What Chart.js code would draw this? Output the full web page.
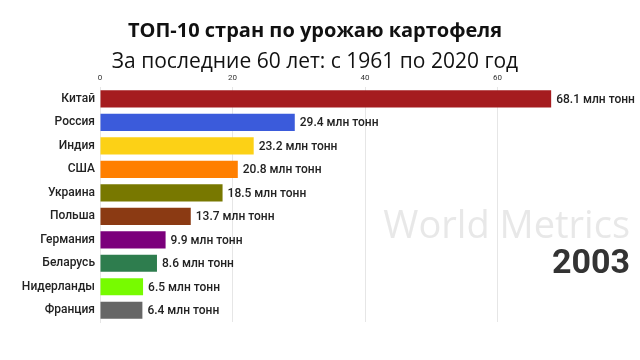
<!DOCTYPE html>
<html>
<head>
<meta charset="utf-8">
<script src="https://cdn.jsdelivr.net/npm/chart.js@4.4.1/dist/chart.umd.min.js"></script>
<style>
  html, body { margin: 0; padding: 0; background: #fff; }
  #wrap { width: 640px; height: 360px; }
</style>
</head>
<body>
<div id="wrap"><canvas id="potato" width="640" height="360"></canvas></div>
<script>
var countries = ['Китай', 'Россия', 'Индия', 'США', 'Украина', 'Польша', 'Германия', 'Беларусь', 'Нидерланды', 'Франция'];
var harvest = [68.1, 29.4, 23.2, 20.8, 18.5, 13.7, 9.9, 8.6, 6.5, 6.4];
var barColors = ['#a51c1f', '#3b5bdb', '#fcd116', '#ff7f00', '#787800', '#8b3a13', '#7b007b', '#2e7d4e', '#77fb00', '#666666'];
var xTicks = [0, 20, 40, 60];
var unit = ' млн тонн';
var year = '2003';

// value labels at bar ends + watermark
var labelsPlugin = {
    id: 'barLabels',
    afterDatasetsDraw: function(chart) {
        var ctx = chart.ctx;
        var meta = chart.getDatasetMeta(0);
        ctx.save();
        ctx.font = '500 12px Roboto';
        ctx.fillStyle = '#222';
        ctx.textBaseline = 'middle';
        ctx.textAlign = 'left';
        meta.data.forEach(function(bar, i) {
            ctx.fillText(harvest[i].toFixed(1) + unit, bar.x + 5, bar.y + 1);
        });
        ctx.restore();
    },
    afterDraw: function(chart) {
        var ctx = chart.ctx;
        ctx.save();
        ctx.textAlign = 'right';
        ctx.textBaseline = 'middle';
        ctx.font = '38px "Open Sans"';
        ctx.fillStyle = 'rgba(200,200,200,0.42)';
        ctx.fillText('World Metrics', 630, 227);
        ctx.font = 'bold 34px Roboto';
        ctx.fillStyle = '#333';
        ctx.fillText(year, 630, 264);
        ctx.restore();
    }
};

new Chart(document.getElementById('potato'), {
    type: 'bar',
    data: {
        labels: countries,
        datasets: [{
            data: harvest,
            backgroundColor: barColors,
            borderWidth: 0,
            barPercentage: 0.73,
            categoryPercentage: 1
        }]
    },
    options: {
        indexAxis: 'y',
        responsive: false,
        animation: false,
        layout: { padding: { left: 0, right: 10, bottom: 38 } },
        plugins: {
            legend: { display: false },
            tooltip: { enabled: false },
            title: {
                display: true,
                text: 'ТОП-10 стран по урожаю картофеля',
                color: '#111',
                font: { family: '"Open Sans"', size: 20, weight: 'bold' },
                padding: { top: 19, bottom: 3 }
            },
            subtitle: {
                display: true,
                text: 'За последние 60 лет: с 1961 по 2020 год',
                color: '#111',
                font: { family: '"Open Sans"', size: 21, weight: '500' },
                padding: { top: 3, bottom: 0 }
            }
        },
        scales: {
            x: {
                position: 'top',
                min: 0,
                max: 80,
                afterBuildTicks: function(axis) {
                    axis.ticks = xTicks.map(function(v) { return { value: v }; });
                },
                afterFit: function(axis) { axis.height = 13; },
                ticks: {
                    color: '#333',
                    font: { family: 'Roboto', size: 8 },
                    padding: 4
                },
                grid: { color: '#e6e6e6', drawTicks: false },
                border: { display: false }
            },
            y: {
                afterFit: function(axis) { axis.width = 100; },
                ticks: {
                    color: '#222',
                    font: { family: 'Roboto', size: 12, weight: '500' },
                    padding: 5
                },
                grid: { display: false, drawTicks: false },
                border: { color: '#e6e6e6' }
            }
        }
    },
    plugins: [labelsPlugin]
});
</script>
</body>
</html>
